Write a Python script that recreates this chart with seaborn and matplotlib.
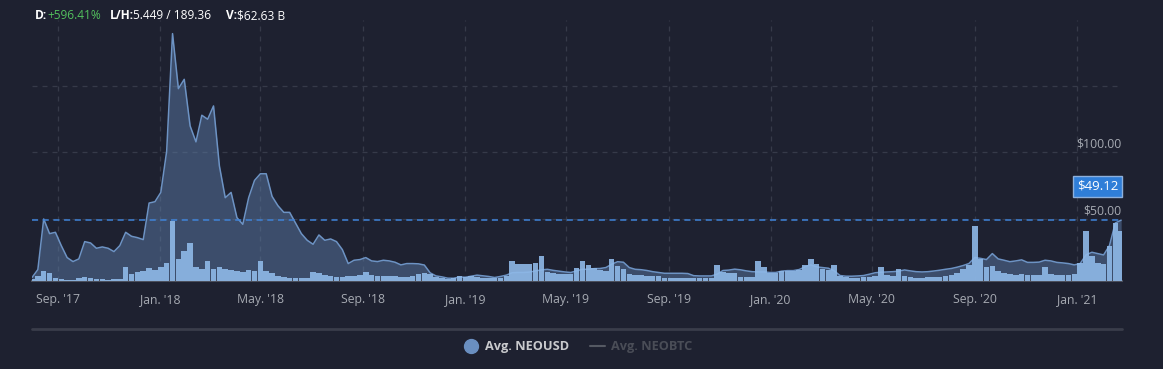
import pandas as pd
import matplotlib
matplotlib.use("Agg")
import matplotlib.pyplot as plt
import matplotlib.dates as mdates
import matplotlib.transforms as mtransforms
from matplotlib.lines import Line2D
import seaborn as sns

# weekly avg NEOUSD price, starting 2017-08-01
price = [
    6, 12, 50, 39, 40, 30, 21, 18, 20, 33,
    32, 28, 29, 28, 25.5, 30, 40, 37, 36, 34.5,
    62, 63, 70, 101, 189.36, 148, 155, 120, 108, 128,
    125, 135, 90, 66, 70, 51, 46, 66, 79, 84,
    84, 67, 60, 55, 55, 47, 39, 34, 31, 38,
    34, 35, 33, 27, 16.5, 19, 19.5, 21, 18.5, 18,
    19, 18.5, 17.5, 15.5, 16.5, 16.5, 16.3, 15.4, 9.5, 7.2,
    6.5, 5.5, 5.449, 6.4, 6.2, 7, 7.8, 7.3, 6.8, 6,
    6.8, 7.8, 9.6, 9.8, 9.8, 10.1, 11, 11.7, 12.2, 11.4,
    10.8, 10.2, 9.8, 11, 12.2, 12.2, 12.7, 12.8, 13.5, 16,
    17.9, 17.5, 13.5, 12.2, 11.9, 11.3, 10.4, 9.8, 9.2, 9.2,
    9.2, 9.2, 9.0, 7.4, 7.2, 7.2, 7.2, 8.5, 11.3, 11.6,
    12.3, 11.8, 11, 10.4, 10.2, 10.2, 9.8, 9.8, 10.8, 11.2,
    11.2, 12, 14, 15.5, 14, 13.5, 13, 11, 7.5, 7,
    7, 7.2, 7.5, 8.5, 9.6, 10, 10.2, 10.4, 10.8, 11.7,
    11, 10.4, 10.2, 10.4, 10.9, 11.5, 12.2, 12.8, 13.8, 15,
    16.5, 21, 20.4, 19.5, 24, 20, 19, 17.9, 18.5, 19.3,
    17.4, 17.4, 17.6, 19, 18.5, 17.4, 17, 16.5, 15.5, 16.5,
    23, 25, 24, 23, 30, 47, 49.12,
]

# relative traded volume (same weeks)
volume = [
    2, 5, 10, 8, 3, 2, 1.5, 1.5, 3, 4,
    3, 2, 2, 1.5, 2, 2, 14, 7, 9, 10,
    13, 11, 14, 18, 60, 22, 30, 38, 14, 12,
    20, 12, 14, 12, 11, 10, 9, 11, 10, 20,
    10, 8, 5, 4, 3, 3, 3, 3, 9, 8,
    6, 5, 4, 4, 5, 5, 6, 9, 6, 5,
    5, 5, 5, 4.5, 4.5, 5, 7, 8, 7, 4,
    3, 2, 3, 5, 4, 5, 4, 3, 3, 3,
    3, 5, 20, 17, 17, 17, 18, 25, 9, 8,
    7, 7, 7, 13, 20, 16, 13, 11, 10, 22,
    15, 12, 7, 6, 6, 5, 5, 5, 3, 3,
    3, 3, 3, 3, 3, 3, 3, 16, 9, 8,
    8, 4, 4, 4, 20, 14, 8, 8, 10, 10,
    10, 11, 16, 22, 17, 12, 11, 16, 5, 4,
    3, 3, 4, 4, 5, 14, 6, 5, 12, 5,
    4, 3, 3, 4, 4, 4, 5, 6, 8, 12,
    16, 55, 22, 14, 15, 10, 8, 7, 6, 7,
    6, 6, 6, 14, 7, 6, 6, 6, 7, 18,
    50, 25, 18, 17, 35, 58, 50,
]

start_date = "2017-08-01"
end_date = "2021-02-24"
tick_dates = ["2017-09-01", "2018-01-01", "2018-05-01", "2018-09-01",
              "2019-01-01", "2019-05-01", "2019-09-01", "2020-01-01",
              "2020-05-01", "2020-09-01", "2021-01-01"]
price_labels = [50, 100]
price_grid = [50, 100, 150]
last_price = 49.12
legend_labels = ["Avg. NEOUSD", "Avg. NEOBTC"]

BG = "#1e2130"
AREA = "#5b7aa6"
LINE = "#6d93c4"
VOL = "#8fb9e8"
GRID = "#363a49"
TXT = "#a6aab2"

sns.set_theme(style="dark")
plt.rcParams["font.family"] = ["Open Sans", "DejaVu Sans"]

df = pd.DataFrame({
    "date": pd.date_range(start_date, periods=len(price), freq="7D"),
    "price": price,
    "volume": volume,
})

W, H = 1163, 369
fig = plt.figure(figsize=(W / 100, H / 100), dpi=100, facecolor=BG)
ax = fig.add_axes([32 / W, 88 / H, 1090 / W, 261 / H])
ax.set_facecolor(BG)

# price area + line
ax.fill_between(df["date"], 0, df["price"], color=AREA, alpha=0.5, lw=0, zorder=2)
sns.lineplot(data=df, x="date", y="price", ax=ax, color=LINE, lw=1.1, zorder=3)
ax.set_ylim(3.4, 199.6)
ax.set_xlim(pd.Timestamp(start_date), pd.Timestamp(end_date))

# grid
ax.set_axisbelow(True)
ax.set_yticks(price_grid)
ax.set_xticks(pd.to_datetime(tick_dates))
ax.xaxis.set_major_formatter(mdates.DateFormatter("%b. '%y"))
ax.grid(True, color=GRID, lw=0.9, linestyle=(0, (4, 4)))
ax.tick_params(axis="y", length=0, labelleft=False)
ax.tick_params(axis="x", length=6, width=1, color="#4b4f5c",
               labelcolor=TXT, labelsize=8.8, pad=3)
for side in ["top", "left", "right"]:
    ax.spines[side].set_visible(False)
ax.spines["bottom"].set_color("#4b4f5c")
ax.spines["bottom"].set_linewidth(1.5)
ax.set_xlabel("")
ax.set_ylabel("")

# volume bars on top
ax2 = ax.twinx()
ax2.bar(df["date"], df["volume"], width=6.6, color=VOL, lw=0, alpha=0.9)
ax2.set_ylim(0, 261)
ax2.set_axis_off()

# current price marker line
trans = mtransforms.blended_transform_factory(ax2.transAxes, ax.transData)
ax2.plot([0, 1], [last_price, last_price], transform=trans,
         color="#3f83d8", lw=1.1, linestyle=(0, (4, 3)), clip_on=False)

for v in price_labels:
    ax2.text(0.9995, v + 1.2, f"${v:.2f}", transform=trans, ha="right",
             va="bottom", color=TXT, fontsize=8.8)
ax2.text(0.9965, 74.5, f"${last_price:.2f}", transform=trans, ha="right",
         va="center", color="white", fontsize=9.5,
         bbox=dict(boxstyle="square,pad=0.32", fc="#2f7ed8", ec="#8db0dc", lw=1))

# header
hy = 1 - 15.5 / H
hs = 8.6
fig.text(35 / W, hy, "D:", color="white", fontsize=hs, fontweight="bold", va="center")
fig.text(47.5 / W, hy, "+596.41%", color="#52c05d", fontsize=hs, va="center")
fig.text(110 / W, hy, "L/H:", color="white", fontsize=hs, fontweight="bold", va="center")
fig.text(133 / W, hy, "5.449 / 189.36", color="white", fontsize=hs, va="center")
fig.text(225.7 / W, hy, "V:", color="white", fontsize=hs, fontweight="bold", va="center")
fig.text(236.7 / W, hy, "$62.63 B", color="white", fontsize=hs, va="center")

# separator + legend
fig.add_artist(Line2D([32 / W, 1122 / W], [1 - 329 / H] * 2, color="#3a3d4a", lw=2))
handles = [
    Line2D([], [], marker="o", ls="", color="#6a8fc0", markersize=10),
    Line2D([], [], ls="-", color="#555963", lw=1.5),
]
leg = fig.legend(handles, legend_labels, loc="center", bbox_to_anchor=(578 / W, 1 - 346.5 / H),
                 ncol=2, frameon=False, handlelength=1.2, columnspacing=1.6,
                 handletextpad=0.5, prop={"weight": "bold", "size": 9.2})
leg.get_texts()[0].set_color("#c9cacd")
leg.get_texts()[1].set_color("#4a4d57")

fig.savefig("out.png", dpi=100, facecolor=BG)
